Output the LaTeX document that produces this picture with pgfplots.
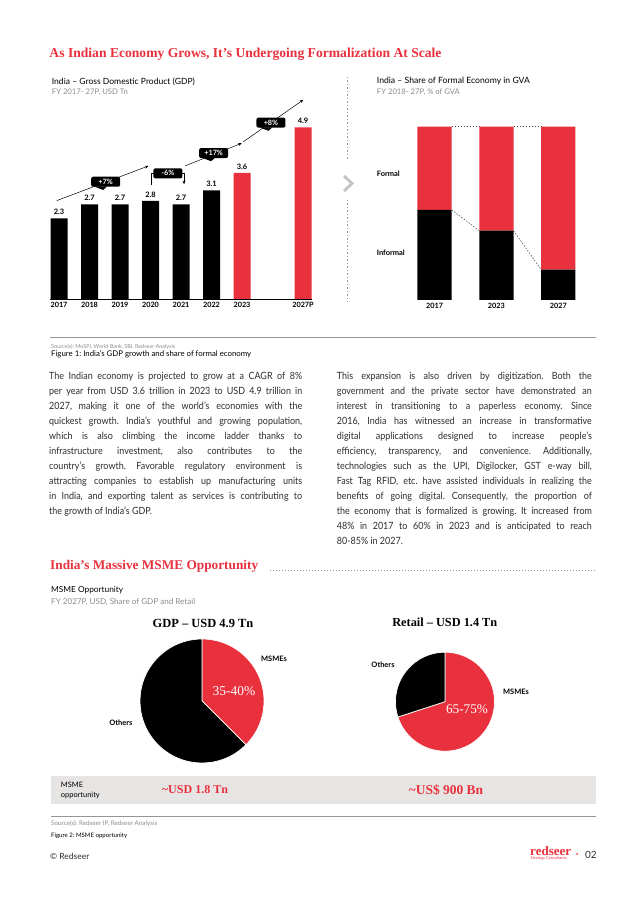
\documentclass[border=0pt]{standalone}
\usepackage{pgfplots}
\pgfplotsset{compat=1.18}
\usepackage{pgfplotstable}
\usepackage{graphicx}
\usepackage{fontspec}
\usetikzlibrary{arrows.meta}
\setmainfont{Lato}
\newfontfamily\bodyf[FakeStretch=0.9]{Lato}
\newfontfamily\serif{Liberation Serif}
\definecolor{rsred}{RGB}{233,49,61}
\definecolor{txtgray}{RGB}{140,140,140}
\definecolor{bodytxt}{RGB}{45,45,45}
\definecolor{band}{RGB}{231,229,228}
\definecolor{rulec}{RGB}{150,150,150}
\definecolor{chev}{RGB}{195,195,195}
\newcommand\fs[1]{\fontsize{#1}{#1}\selectfont}
\newcommand\TXW[6]{\node[anchor=#4,inner sep=0pt,text=#5] at (#1,{902-#2}) {\resizebox{#3bp}{!}{#6}};}
\newlength\colw
\newcommand\JL[1]{\hbox to \colw{#1}}
\frenchspacing

\pgfplotstableread{
seg share
MSMEs 37.5
Others 62.5
}\gdptab
\pgfplotstableread{
seg share
MSMEs 70
Others 30
}\rettab

\begin{document}
\pgfplotstablegetelem{0}{share}\of\gdptab\edef\gdpm{\pgfplotsretval}%
\pgfplotstablegetelem{0}{share}\of\rettab\edef\retm{\pgfplotsretval}%
\pgfmathsetmacro\gdpea{90-3.6*\gdpm}%
\pgfmathsetmacro\retea{90-3.6*\retm}%
\begin{tikzpicture}[x=1bp,y=1bp,
  box/.style={fill=black,text=white,rounded corners=2bp,minimum width=29bp,minimum height=10bp,inner sep=0pt,font=\bfseries\fs{7.3}}]
\path[use as bounding box, fill=white] (0,0) rectangle (638,902);

% ---------- heading 1 ----------
\TXW{49.3}{54}{392}{west}{rsred}{\serif\bfseries As Indian Economy Grows, It’s Undergoing Formalization At Scale}

% ---------- chart titles ----------
\TXW{51.7}{81.7}{143}{west}{black}{\fs{8}India – Gross Domestic Product (GDP)}
\TXW{51.7}{92.3}{76}{west}{txtgray}{\fs{8}FY 2017- 27P, USD Tn}
\TXW{376.7}{80.7}{153}{west}{black}{\fs{8}India – Share of Formal Economy in GVA}
\TXW{376.7}{92.7}{83}{west}{txtgray}{\fs{8}FY 2018- 27P, \% of GVA}

% ---------- GDP bar chart ----------
\begin{axis}[at={(49.85bp,603bp)}, anchor=south west,
  width=262.3bp, height=175bp, scale only axis,
  xmin=-0.3, xmax=8.3, ymin=0, ymax=5,
  axis y line=none, axis x line=bottom,
  x axis line style={-, line width=0.6bp},
  xtick={0,1,2,3,4,5,6,8},
  xticklabels={2017,2018,2019,2020,2021,2022,2023,2027P},
  major tick length=0pt,
  xticklabel style={font=\bfseries\fs{7.3}, text=black},
  ybar, bar width=17bp, bar shift=0pt,
  point meta=explicit symbolic,
  nodes near coords,
  every node near coord/.append style={font=\bfseries\fs{7.5}, text=black},
  clip=false]
\addplot[fill=black, draw=none] coordinates {(0,2.3)[2.3] (1,2.7)[2.7] (2,2.7)[2.7] (3,2.8)[2.8] (4,2.7)[2.7] (5,3.1)[3.1]};
\addplot[fill=rsred, draw=none] coordinates {(6,3.6)[3.6] (8,4.9)[4.9]};
% growth arrows and callouts
\draw[-{Stealth[length=3.5bp,width=3bp]}, line width=0.5bp] (axis cs:-0.075,2.81) -- (axis cs:2.93,3.8);
\draw[-{Stealth[length=3.5bp,width=3bp]}, line width=0.5bp] (axis cs:4.13,3.8) -- (axis cs:5.99,4.45);
\draw[-{Stealth[length=3.5bp,width=3bp]}, line width=0.5bp] (axis cs:6.04,4.49) -- (axis cs:8.01,5.69);
\draw[-{Stealth[length=3.5bp,width=3bp]}, line width=0.5bp] (axis cs:3.01,3.27) -- (axis cs:3.01,3.6) -- (axis cs:4.10,3.6) -- (axis cs:4.10,3.28);
\node[box] (b1) at (axis cs:1.53,3.35) {+7\%};
\fill (b1.south west) ++(3bp,0.5bp) -- ++(0,-3.5bp) -- ++(4bp,3.5bp) -- cycle;
\node[box] (b2) at (axis cs:3.57,3.59) {-6\%};
\node[box] (b3) at (axis cs:5.07,4.17) {+17\%};
\fill (b3.south west) ++(3bp,0.5bp) -- ++(0,-3.5bp) -- ++(4bp,3.5bp) -- cycle;
\node[box] (b4) at (axis cs:6.95,5.04) {+8\%};
\fill (b4.south west) ++(3bp,0.5bp) -- ++(0,-3.5bp) -- ++(4bp,3.5bp) -- cycle;
\end{axis}

% ---------- separator ----------
\draw[rulec, line width=0.6bp, dash pattern=on 1.5bp off 2bp] (347,{902-77}) -- (347,{902-160});
\draw[rulec, line width=0.6bp, dash pattern=on 1.5bp off 2bp] (347,{902-200}) -- (347,{902-302});
\draw[chev, line width=2.8bp] (344,{902-176}) -- (352,{902-183.5}) -- (344,{902-191});

% ---------- formal share chart ----------
\node[anchor=west, inner sep=0pt, font=\bfseries\fs{7.5}] at (376.7,{902-173.3}) {Formal};
\node[anchor=west, inner sep=0pt, font=\bfseries\fs{7.5}] at (376.7,{902-252.3}) {Informal};
\begin{axis}[at={(417.2bp,602bp)}, anchor=south west,
  width=158.4bp, height=173.3bp, scale only axis,
  xmin=-0.28, xmax=2.28, ymin=0, ymax=100,
  ybar stacked, bar width=34.3bp,
  axis line style={draw=none}, major tick length=0pt,
  ytick=\empty, xtick={0,1,2}, xticklabels={2017,2023,2027},
  xticklabel style={font=\bfseries\fs{7.3}, text=black},
  clip=false]
\addplot[fill=black, draw=none] coordinates {(0,52) (1,40) (2,17.5)};
\addplot[fill=rsred, draw=none] coordinates {(0,48) (1,60) (2,82.5)};
\draw[line width=0.5bp, black!75, dash pattern=on 1.5bp off 1.5bp] (axis cs:0.277,100) -- (axis cs:0.723,100);
\draw[line width=0.5bp, black!75, dash pattern=on 1.5bp off 1.5bp] (axis cs:1.277,100) -- (axis cs:1.723,100);
\draw[line width=0.5bp, black!75, dash pattern=on 1.5bp off 1.5bp] (axis cs:0.277,52) -- (axis cs:0.723,40);
\draw[line width=0.5bp, black!75, dash pattern=on 1.5bp off 1.5bp] (axis cs:1.277,40) -- (axis cs:1.723,17.5);
\node[text=white, font=\fs{7.5}] at (axis cs:0,76) {48\%};
\node[text=white, font=\fs{7.5}] at (axis cs:1,70) {60\%};
\node[text=white, font=\fs{7.5}] at (axis cs:2,58.75) {80-85\%};
\end{axis}

% ---------- source 1 ----------
\draw[rulec, line width=0.8bp] (50,{902-337.7}) -- (596,{902-337.7});
\TXW{51}{346.7}{124}{west}{txtgray}{Source(s): MoSPI, World Bank, SBI, Redseer Analysis}
\TXW{51}{354.3}{200}{west}{black}{Figure 1: India’s GDP growth and share of formal economy}

% ---------- body text ----------
\node[anchor=base west, inner sep=0pt, text=bodytxt] at (49,{902-380}) {\vtop{\bodyf\fs{10}\baselineskip=15bp\colw=253bp
\JL{The Indian economy is projected to grow at a CAGR of 8\%}
\JL{per year from USD 3.6 trillion in 2023 to USD 4.9 trillion in}
\JL{2027, making it one of the world’s economies with the}
\JL{quickest growth. India’s youthful and growing population,}
\JL{which is also climbing the income ladder thanks to}
\JL{infrastructure investment, also contributes to the}
\JL{country’s growth. Favorable regulatory environment is}
\JL{attracting companies to establish up manufacturing units}
\JL{in India, and exporting talent as services is contributing to}
\hbox{the growth of India’s GDP.}}};
\node[anchor=base west, inner sep=0pt, text=bodytxt] at (336.7,{902-380}) {\vtop{\bodyf\fs{10}\baselineskip=15bp\colw=255bp
\JL{This expansion is also driven by digitization. Both the}
\JL{government and the private sector have demonstrated an}
\JL{interest in transitioning to a paperless economy. Since}
\JL{2016, India has witnessed an increase in transformative}
\JL{digital applications designed to increase people’s}
\JL{efficiency, transparency, and convenience. Additionally,}
\JL{technologies such as the UPI, Digilocker, GST e-way bill,}
\JL{Fast Tag RFID, etc. have assisted individuals in realizing the}
\JL{benefits of going digital. Consequently, the proportion of}
\JL{the economy that is formalized is growing. It increased from}
\JL{48\% in 2017 to 60\% in 2023 and is anticipated to reach}
\hbox{80-85\% in 2027.}}};

% ---------- heading 2 ----------
\TXW{50}{566}{208}{west}{rsred}{\serif\bfseries India’s Massive MSME Opportunity}
\draw[rulec, line width=0.6bp, dash pattern=on 1bp off 2bp] (270,{902-570}) -- (596,{902-570});
\TXW{51}{590}{72}{west}{black}{\fs{8}MSME Opportunity}
\TXW{51}{602.3}{144}{west}{txtgray}{\fs{8}FY 2027P, USD, Share of GDP and Retail}
\TXW{203}{623.3}{100.7}{center}{black}{\serif\bfseries GDP – USD 4.9 Tn}
\TXW{444.8}{622.7}{105}{center}{black}{\serif\bfseries Retail – USD 1.4 Tn}

% ---------- pies ----------
\begin{axis}[at={(202bp,201bp)}, anchor=center, width=124bp, height=124bp, scale only axis,
  xmin=-1, xmax=1, ymin=-1, ymax=1, hide axis, clip=false]
\fill[rsred, draw=white, line width=0.7bp] (axis cs:0,0) -- ++(90:62bp) arc[start angle=90, end angle=\gdpea, radius=62bp] -- cycle;
\fill[black, draw=white, line width=0.7bp] (axis cs:0,0) -- ++(\gdpea:62bp) arc[start angle=\gdpea, end angle=-270, radius=62bp] -- cycle;
\end{axis}
\begin{axis}[at={(445bp,200.3bp)}, anchor=center, width=99bp, height=99bp, scale only axis,
  xmin=-1, xmax=1, ymin=-1, ymax=1, hide axis, clip=false]
\fill[rsred, draw=white, line width=0.7bp] (axis cs:0,0) -- ++(90:49.5bp) arc[start angle=90, end angle=\retea, radius=49.5bp] -- cycle;
\fill[black, draw=white, line width=0.7bp] (axis cs:0,0) -- ++(\retea:49.5bp) arc[start angle=\retea, end angle=-270, radius=49.5bp] -- cycle;
\end{axis}
\node[inner sep=0pt, font=\bfseries\fs{7.5}] at (274,{902-659}) {MSMEs};
\node[inner sep=0pt, font=\bfseries\fs{7.5}] at (120.8,{902-722.7}) {Others};
\TXW{234}{691}{42.7}{center}{white}{\serif 35-40\%}
\node[inner sep=0pt, font=\bfseries\fs{7.5}] at (383,{902-665}) {Others};
\node[inner sep=0pt, font=\bfseries\fs{7.5}] at (516,{902-692.3}) {MSMEs};
\TXW{467}{709}{42}{center}{white}{\serif 65-75\%}

% ---------- band ----------
\fill[band] (51,{902-776}) rectangle (596,{902-804});
\node[anchor=west, inner sep=0pt, font=\fs{7.5}] at (60.7,{902-785.3}) {MSME};
\node[anchor=west, inner sep=0pt, font=\fs{7.5}] at (60.7,{902-795}) {opportunity};
\TXW{195}{790}{66}{center}{rsred}{\serif\bfseries \textasciitilde USD 1.8 Tn}
\TXW{446}{790}{74.3}{center}{rsred}{\serif\bfseries \textasciitilde US\$ 900 Bn}

% ---------- source 2 ----------
\draw[rulec, line width=0.8bp] (51,{902-816}) -- (596,{902-816});
\TXW{51}{824}{106}{west}{txtgray}{Source(s): Redseer IP, Redseer Analysis}
\TXW{51}{836}{76}{west}{black}{Figure 2: MSME opportunity}

% ---------- footer ----------
\node[anchor=west, inner sep=0pt, font=\fs{8.5}, text=bodytxt] at (50,{902-856}) {© Redseer};
\TXW{530}{851}{41}{west}{rsred}{\serif\bfseries redseer}
\TXW{530.5}{858.5}{36}{west}{rsred}{\fs{4}Strategy Consultants}
\fill[rsred] (577,{902-854}) circle (1bp);
\node[anchor=west, inner sep=0pt, font=\fs{10}, text=bodytxt] at (585,{902-855}) {02};
\end{tikzpicture}
\end{document}
